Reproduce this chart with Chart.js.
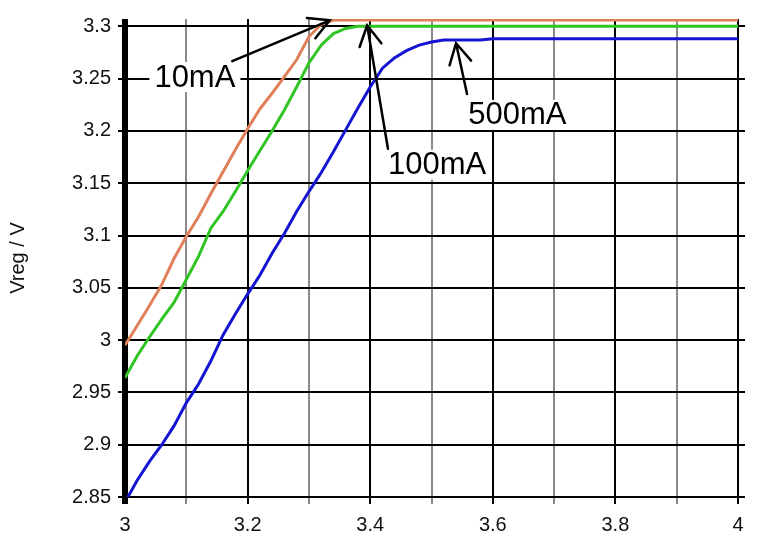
<!DOCTYPE html>
<html lang="en">
<head>
  <meta charset="UTF-8" />
  <title>Vreg vs Vin</title>
  <style>
    body {
      margin: 0;
      background-color: #fff;
    }
    #chart {
      display: block;
    }
  </style>
</head>
<body>
  <canvas id="chart" width="763" height="550"></canvas>
  <script src="https://cdn.jsdelivr.net/npm/chart.js"></script>
  <script>
    // input voltage samples (x)
    const vin = [3.00, 3.02, 3.04, 3.06, 3.08, 3.10, 3.12, 3.14, 3.16, 3.18,
                 3.20, 3.22, 3.24, 3.26, 3.28, 3.30, 3.32, 3.34, 3.36, 3.38,
                 3.40, 3.42, 3.44, 3.46, 3.48, 3.50, 3.52, 3.54, 3.56, 3.58,
                 3.60, 3.70, 3.80, 3.90, 4.00];

    // regulated output for each load current
    const vreg10mA = [2.995, 3.014, 3.033, 3.053, 3.078, 3.099, 3.118, 3.140, 3.161, 3.182,
                      3.202, 3.221, 3.236, 3.252, 3.268, 3.290, 3.302, 3.306, 3.306, 3.306,
                      3.306, 3.306, 3.306, 3.306, 3.306, 3.306, 3.306, 3.306, 3.306, 3.306,
                      3.306, 3.306, 3.306, 3.306, 3.306];
    const vreg100mA = [2.964, 2.985, 3.003, 3.020, 3.036, 3.058, 3.080, 3.107, 3.123, 3.142,
                       3.162, 3.181, 3.200, 3.220, 3.242, 3.265, 3.282, 3.293, 3.298, 3.300,
                       3.300, 3.300, 3.300, 3.300, 3.300, 3.300, 3.300, 3.300, 3.300, 3.300,
                       3.300, 3.300, 3.300, 3.300, 3.300];
    const vreg500mA = [2.845, 2.866, 2.884, 2.900, 2.918, 2.940, 2.958, 2.980, 3.005, 3.025,
                       3.044, 3.062, 3.083, 3.102, 3.123, 3.142, 3.160, 3.180, 3.201, 3.222,
                       3.242, 3.260, 3.270, 3.277, 3.282, 3.285, 3.287, 3.287, 3.287, 3.287,
                       3.288, 3.288, 3.288, 3.288, 3.288];

    // axis ticks
    const xTicks = [3.0, 3.1, 3.2, 3.3, 3.4, 3.5, 3.6, 3.7, 3.8, 3.9, 4.0];
    const xLabels = ['3', '', '3.2', '', '3.4', '', '3.6', '', '3.8', '', '4'];
    const yTicks = [2.85, 2.9, 2.95, 3.0, 3.05, 3.1, 3.15, 3.2, 3.25, 3.3];
    const yLabels = ['2.85', '2.9', '2.95', '3', '3.05', '3.1', '3.15', '3.2', '3.25', '3.3'];

    // callout labels: text centre and arrow (from -> to), in data units
    const callouts = [
      { text: '10mA',  tx: 3.114, ty: 3.2515, from: [3.175, 3.2667], to: [3.334, 3.3057] },
      { text: '100mA', tx: 3.509, ty: 3.1677, from: [3.429, 3.183],  to: [3.395, 3.301] },
      { text: '500mA', tx: 3.640, ty: 3.2153, from: [3.558, 3.2353], to: [3.540, 3.2838] }
    ];

    const font = "'Liberation Sans', Arial, sans-serif";

    function series(ys) {
      return vin.map((x, i) => ({ x: x, y: ys[i] }));
    }

    const calloutPlugin = {
      id: 'callouts',
      afterDatasetsDraw(chart) {
        const ctx = chart.ctx;
        const xs = chart.scales.x;
        const ys = chart.scales.y;
        ctx.save();
        ctx.font = '31px ' + font;
        ctx.textAlign = 'center';
        ctx.textBaseline = 'middle';
        callouts.forEach(c => {
          const px = xs.getPixelForValue(c.tx);
          const py = ys.getPixelForValue(c.ty);
          const w = ctx.measureText(c.text).width;
          ctx.fillStyle = '#fff';
          ctx.fillRect(px - w / 2 - 5, py - 15, w + 10, 30);
          ctx.fillStyle = '#000';
          ctx.fillText(c.text, px, py + 1);

          const x1 = xs.getPixelForValue(c.from[0]);
          const y1 = ys.getPixelForValue(c.from[1]);
          const x2 = xs.getPixelForValue(c.to[0]);
          const y2 = ys.getPixelForValue(c.to[1]);
          const a = Math.atan2(y2 - y1, x2 - x1);
          const head = 23;
          ctx.strokeStyle = '#000';
          ctx.lineWidth = 2.5;
          ctx.lineCap = 'round';
          ctx.beginPath();
          ctx.moveTo(x1, y1);
          ctx.lineTo(x2, y2);
          ctx.moveTo(x2 - head * Math.cos(a - 0.5), y2 - head * Math.sin(a - 0.5));
          ctx.lineTo(x2, y2);
          ctx.lineTo(x2 - head * Math.cos(a + 0.5), y2 - head * Math.sin(a + 0.5));
          ctx.stroke();
        });
        ctx.restore();
      }
    };

    new Chart(document.getElementById('chart'), {
      type: 'scatter',
      data: {
        datasets: [
          { label: '500mA', data: series(vreg500mA), borderColor: '#1414d2', borderWidth: 3 },
          { label: '100mA', data: series(vreg100mA), borderColor: '#30c424', borderWidth: 3 },
          { label: '10mA',  data: series(vreg10mA),  borderColor: '#e0805a', borderWidth: 3 }
        ]
      },
      options: {
        responsive: false,
        animation: false,
        showLine: true,
        elements: {
          point: { radius: 0 },
          line: { borderWidth: 3, tension: 0 }
        },
        layout: { padding: { top: 17, left: 0, right: 0, bottom: 0 } },
        plugins: {
          legend: { display: false },
          tooltip: { enabled: false }
        },
        scales: {
          x: {
            type: 'linear',
            min: 3,
            max: 4,
            afterBuildTicks: s => { s.ticks = xTicks.map(v => ({ value: v })); },
            afterFit: s => { s.height = 53; },
            border: { display: false },
            grid: {
              color: c => (c.index % 2 === 1 ? '#8a8a8a' : '#000'),
              lineWidth: c => (c.index === 0 ? 6 : 2),
              tickLength: 7
            },
            ticks: {
              callback: (v, i) => xLabels[i],
              color: '#111',
              font: { size: 20, family: font },
              padding: 9,
              maxRotation: 0,
              autoSkip: false
            }
          },
          y: {
            min: 2.85,
            max: 3.307,
            afterBuildTicks: s => { s.ticks = yTicks.map(v => ({ value: v })); },
            afterFit: s => { s.width = 125; },
            border: { display: false },
            grid: { color: '#000', lineWidth: 2, tickLength: 7 },
            ticks: {
              callback: (v, i) => yLabels[i],
              color: '#111',
              font: { size: 20, family: font },
              padding: 7,
              autoSkip: false
            },
            title: {
              display: true,
              text: 'Vreg / V',
              color: '#111',
              font: { size: 20, family: font },
              padding: { top: 6, bottom: 4 }
            }
          },
          y2: {
            position: 'right',
            min: 2.85,
            max: 3.307,
            afterBuildTicks: s => { s.ticks = yTicks.map(v => ({ value: v })); },
            afterFit: s => { s.width = 25; },
            border: { display: false },
            grid: { color: '#000', lineWidth: 2, tickLength: 7, drawOnChartArea: false },
            ticks: { display: false }
          }
        }
      },
      plugins: [calloutPlugin]
    });
  </script>
</body>
</html>
